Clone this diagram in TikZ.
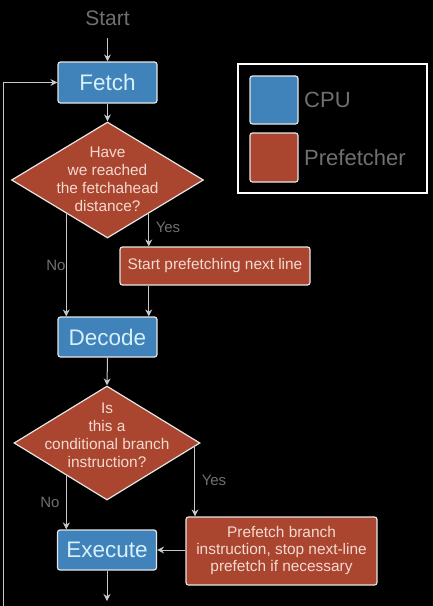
\documentclass[tikz,border=0pt]{standalone}
\usepackage{fontspec}
\setmainfont{Liberation Sans}
\usetikzlibrary{shapes.geometric,arrows.meta,calc}
\definecolor{cpublue}{HTML}{4082BA}
\definecolor{pfred}{HTML}{AA452F}
\definecolor{cputext}{HTML}{D8F0FA}
\definecolor{pftext}{HTML}{F4DAD0}
\definecolor{edgecol}{HTML}{E6E6E6}
\definecolor{linecol}{HTML}{C8C8C8}
\definecolor{dimtext}{HTML}{707070}
\tikzset{
  cpubox/.style={draw=edgecol, line width=1.2pt, fill=cpublue, rounded corners=2.5pt,
    text=cputext, font=\fontsize{22.5}{27}\selectfont, inner sep=0pt},
  pfbox/.style={draw=edgecol, line width=1.2pt, fill=pfred, rounded corners=2.5pt,
    text=pftext, font=\fontsize{15.4}{17.5}\selectfont, align=center, inner sep=0pt},
  pfdiam/.style={diamond, draw=edgecol, line width=1.2pt, fill=pfred, inner sep=0pt},
  diamtext/.style={text=pftext, font=\fontsize{15.4}{18}\selectfont, align=center, inner sep=0pt},
  arr/.style={draw=linecol, line width=1pt, -{Stealth[length=7pt,width=7pt]}},
  dimlabel/.style={text=dimtext, font=\fontsize{15}{17}\selectfont, inner sep=0pt},
}
\begin{document}
\begin{tikzpicture}[x=1pt,y=-1pt]
\fill[black] (0,0) rectangle (433,606);
\useasboundingbox (0,0) rectangle (433,606);

% start
\node[text=dimtext, font=\fontsize{21}{25}\selectfont, inner sep=0pt] (start) at (107.5,18) {Start};

% CPU boxes
\node[cpubox, minimum width=99pt, minimum height=41pt] (fetch) at (107.5,82.5) {Fetch};
\node[cpubox, minimum width=99pt, minimum height=40pt] (decode) at (107.5,337) {Decode};
\node[cpubox, minimum width=99pt, minimum height=40pt] (exec) at (107,550) {Execute};

% diamonds
\node[pfdiam, minimum width=192pt, minimum height=116pt] (d1) at (107.5,180) {};
\node[diamtext] (d1t) at (107.5,179) {Have\\we reached\\the fetchahead\\distance?};
\node[pfdiam, minimum width=186pt, minimum height=114pt] (d2) at (107,443) {};
\node[diamtext] (d2t) at (107,435) {Is\\this a\\conditional branch\\instruction?};

% prefetcher boxes
\node[pfbox, minimum width=190pt, minimum height=38pt] (pf1) at (215,266) {Start prefetching next line};
\node[pfbox, minimum width=191pt, minimum height=68pt, font=\fontsize{15.4}{17}\selectfont] (pf2) at (281.5,551)
  {Prefetch branch\\instruction, stop next-line\\prefetch if necessary};

% legend
\node[draw=white, line width=1.3pt, minimum width=189pt, minimum height=129pt, inner sep=0pt] (legend) at (332.5,128.5) {};
\node[draw=edgecol, line width=1.2pt, fill=cpublue, rounded corners=2.5pt, minimum width=48pt, minimum height=48pt, inner sep=0pt] (legcpu) at (274,100) {};
\node[draw=edgecol, line width=1.2pt, fill=pfred, rounded corners=2.5pt, minimum width=48pt, minimum height=49pt, inner sep=0pt] (legpf) at (274,157.5) {};
\node[text=dimtext, font=\fontsize{22}{26}\selectfont, anchor=west, inner sep=0pt] (legcputxt) at (304,100) {CPU};
\node[text=dimtext, font=\fontsize{22}{26}\selectfont, anchor=west, inner sep=0pt] (legpftxt) at (304,157.5) {Prefetcher};

% connectors
\draw[arr] ([yshift=-20pt]start.center) -- (fetch.north);
\draw[arr] (fetch.south) -- (d1.north);

\coordinate (n1) at ($(d1.west)!0.573!(d1.south)$);
\coordinate (y1) at ($(d1.east)!0.573!(d1.south)$);
\draw[arr] (n1) -- (n1 |- decode.north);
\draw[arr] (y1) -- (y1 |- pf1.north);
\draw[arr] (pf1.south -| y1) -- (decode.north -| y1);
\node[dimlabel] (no1) at (56,265) {No};
\node[dimlabel] (yes1) at (168,227) {Yes};

\draw[arr] (decode.south) -- (d2.north);

\coordinate (n2) at ($(d2.west)!0.565!(d2.south)$);
\coordinate (y2) at ($(d2.east)!0.06!(d2.south)$);
\draw[arr] (n2) -- (n2 |- exec.north);
\draw[arr] (y2) -- (y2 |- pf2.north);
\node[dimlabel] (no2) at (50,502) {No};
\node[dimlabel] (yes2) at (214,480) {Yes};

\draw[arr] (pf2.west |- exec.east) -- (exec.east);

\coordinate (execout) at (107,601);
\draw[arr] (exec.south) -- (execout);
\coordinate (loopbot) at (3,606);
\draw[arr] (loopbot) |- (fetch.west);
\end{tikzpicture}
\end{document}
